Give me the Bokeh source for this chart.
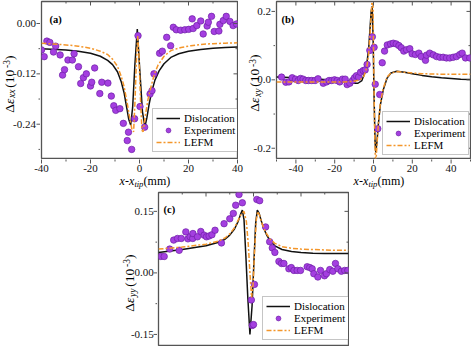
import math
from bokeh.plotting import figure
from bokeh.models import Label, Legend, LegendItem, Range1d, Spacer
from bokeh.core.properties import value
from bokeh.layouts import column, row
from bokeh.embed import file_html
from bokeh.resources import INLINE

# ---------------- data ----------------
# panel (a): delta eps_xx
a_disl_x = [-40, -30, -25, -20, -16, -13, -11, -9, -7.5, -6.3, -5.3, -4.4, -3.6, -2.8, -1.9, -0.9,
            0.1, 1.2, 2.2, 3.0, 4.0, 5.0, 6.3, 8, 10, 13, 16, 20, 25, 30, 35, 40]
a_disl_y = [-0.060, -0.063, -0.066, -0.071, -0.078, -0.088, -0.098, -0.115, -0.138, -0.165, -0.198,
            -0.228, -0.242, -0.200, -0.100, -0.013, -0.110, -0.210, -0.246, -0.225, -0.190, -0.162,
            -0.135, -0.113, -0.096, -0.080, -0.072, -0.066, -0.062, -0.059, -0.057, -0.056]
a_lefm_x = [-40, -30, -25, -20, -16, -13, -11, -9, -7.5, -6.3, -5, -4, -3, -2.4, -1.8, -1.2, -0.7,
            -0.2, 0.4, 1.0, 1.5, 2.5, 3.5, 4.5, 6, 7.5, 10, 13, 17, 21, 25, 30, 35, 40]
a_lefm_y = [-0.047, -0.051, -0.054, -0.059, -0.066, -0.074, -0.085, -0.102, -0.125, -0.150, -0.190,
            -0.225, -0.255, -0.258, -0.180, -0.080, -0.030, -0.080, -0.180, -0.255, -0.258, -0.215,
            -0.180, -0.155, -0.122, -0.100, -0.078, -0.064, -0.057, -0.053, -0.050, -0.048, -0.047, -0.046]
a_exp_x = [-40.0, -38.9, -37.8, -36.6, -35.1, -34.2, -32.4, -31.4, -30.6, -29.2, -27.4, -26.7, -24.9,
           -24.0, -22.9, -21.7, -20.0, -19.5, -18.3, -16.2, -15.4, -12.9, -11.5, -10.5, -9.7, -8.0,
           -6.6, -5.0, -4.5, -3.2, -2.0, -0.6, 0.2, 2.1, 4.3, 5.1, 5.9, 8.2, 9.3, 11.1, 12.7, 13.8,
           15.0, 16.8, 18.5, 20.1, 21.5, 21.9, 23.4, 25.0, 26.0, 27.6, 28.1, 29.4, 30.5, 32.4, 32.8,
           34.2, 35.4, 36.9, 38.2, 39.6]
a_exp_y = [-0.063, -0.079, -0.042, -0.045, -0.068, -0.054, -0.075, -0.123, -0.110, -0.087, -0.087,
           -0.072, -0.103, -0.143, -0.129, -0.120, -0.149, -0.140, -0.106, -0.167, -0.140, -0.142,
           -0.173, -0.196, -0.207, -0.203, -0.238, -0.279, -0.259, -0.300, -0.227, -0.029, -0.198,
           -0.247, -0.168, -0.160, -0.120, -0.071, -0.066, -0.033, -0.053, -0.009, -0.015, -0.016,
           -0.015, -0.014, 0.011, -0.012, -0.005, 0.006, -0.025, -0.006, 0.003, 0.017, -0.019,
           -0.018, -0.002, 0.007, 0.017, 0.005, -0.005, -0.001]
a_xticks = [-40, -20, 0, 20, 40]
a_xtick_labels = ["-40", "-20", "0", "20", "40"]
a_xminor = [-30, -10, 10, 30]
a_yticks = [-0.24, -0.12, 0.0]
a_ytick_labels = ["-0.24", "-0.12", "0.00"]
a_yminor = [-0.30, -0.18, -0.06]

# panel (b): delta eps_xy
b_disl_x = [-50, -40, -30, -20, -15, -11, -8, -6, -4.5, -3.5, -2.5, -1.8, -1.2, -0.7, -0.2, 0.3, 0.8,
            1.2, 1.8, 2.5, 3.5, 5, 7, 9, 12, 16, 20, 25, 30, 35, 40, 45, 50]
b_disl_y = [0.008, 0.006, 0.003, -0.002, -0.006, -0.010, -0.010, -0.002, 0.020, 0.045, 0.090, 0.150,
            0.200, 0.215, 0.120, -0.050, -0.180, -0.212, -0.180, -0.130, -0.075, -0.030, 0.005,
            0.020, 0.025, 0.022, 0.018, 0.013, 0.009, 0.006, 0.004, 0.002, 0.001]
b_lefm_x = [-50, -40, -30, -20, -15, -10, -7, -5, -3.5, -2.5, -1.8, -1.2, -0.7, -0.3, 0.1, 0.5, 0.9,
            1.3, 1.8, 2.5, 3.5, 5, 7, 9, 12, 16, 20, 25, 30, 40, 50]
b_lefm_y = [-0.006, -0.006, -0.006, -0.006, -0.006, -0.004, 0.000, 0.010, 0.035, 0.075, 0.130, 0.190,
            0.240, 0.260, 0.050, -0.120, -0.225, -0.235, -0.190, -0.130, -0.070, -0.025, 0.008,
            0.020, 0.024, 0.022, 0.020, 0.018, 0.017, 0.016, 0.016]
b_exp_x = [-47.4, -45.2, -43.6, -41.9, -40.2, -38.8, -37.6, -36.3, -34.9, -33.5, -31.8, -30.1, -28.6,
           -25.9, -24.2, -22.9, -21.5, -20.1, -18.7, -17.4, -16.0, -14.6, -13.6, -12.2, -10.8, -9.8,
           -8.8, -7.7, -6.7, -5.3, -4.3, -3.3, -1.9, -0.6, 0.3, 0.9, 2.2, 3.2, 4.5, 5.7, 7.1, 8.8,
           10.2, 11.7, 13.1, 14.3, 15.6, 17.0, 18.7, 19.9, 21.6, 23.4, 24.6, 26.8, 27.3, 29.0, 30.8,
           32.5, 34.2, 35.9, 37.6, 39.3, 41.1, 42.8, 44.5, 45.7, 47.4, 49.6]
b_exp_y = [0.008, -0.007, -0.006, 0.006, 0.002, -0.002, 0.004, 0.002, -0.002, -0.002, -0.002, -0.002,
           0.003, -0.010, -0.006, -0.002, -0.002, 0.000, -0.002, -0.006, 0.002, 0.002, -0.014,
           -0.010, -0.002, 0.006, 0.012, 0.008, 0.022, 0.027, 0.029, 0.045, 0.086, 0.126, 0.095,
           -0.013, -0.143, -0.043, 0.050, 0.084, 0.102, 0.105, 0.107, 0.105, 0.100, 0.094, 0.084,
           0.088, 0.091, 0.076, 0.074, 0.078, 0.068, 0.057, 0.072, 0.078, 0.073, 0.068, 0.066,
           0.066, 0.064, 0.064, 0.066, 0.068, 0.074, 0.078, 0.064, 0.064]
b_xticks = [-40, -20, 0, 20, 40]
b_xtick_labels = ["-40", "-20", "0", "20", "40"]
b_xminor = [-50, -30, -10, 10, 30, 50]
b_yticks = [-0.2, 0.0, 0.2]
b_ytick_labels = ["-0.2", "0.0", "0.2"]
b_yminor = [-0.1, 0.1]

# panel (c): delta eps_yy
c_disl_x = [-40, -30, -20, -15, -12, -10, -8, -6.5, -5.5, -4.7, -4.0, -3.2, -2.4, -1.5, -0.6, 0.2,
            0.9, 1.6, 2.4, 3.2, 4.2, 5.5, 7, 9, 12, 16, 20, 25, 30, 35, 40]
c_disl_y = [0.050, 0.057, 0.066, 0.074, 0.082, 0.092, 0.107, 0.125, 0.142, 0.153, 0.130, 0.040,
            -0.060, -0.150, -0.080, 0.030, 0.120, 0.153, 0.145, 0.128, 0.110, 0.093, 0.078, 0.066,
            0.057, 0.052, 0.050, 0.048, 0.047, 0.047, 0.047]
c_lefm_x = [-40, -30, -20, -15, -12, -10, -8, -6.5, -5, -4, -3, -2.2, -1.5, -0.8, -0.2, 0.5, 1.2,
            1.8, 2.6, 3.5, 5, 7, 9, 12, 16, 20, 25, 30, 35, 40]
c_lefm_y = [0.058, 0.063, 0.070, 0.077, 0.085, 0.095, 0.110, 0.128, 0.145, 0.150, 0.125, 0.070,
            0.000, -0.060, -0.030, 0.060, 0.130, 0.150, 0.140, 0.122, 0.100, 0.082, 0.072, 0.064,
            0.060, 0.058, 0.057, 0.056, 0.055, 0.055]
c_exp_x = [-39.0, -37.6, -35.3, -33.6, -32.0, -31.3, -30.4, -28.5, -27.6, -26.7, -25.6, -25.5, -23.6,
           -22.2, -20.8, -19.8, -18.7, -17.5, -16.2, -13.5, -12.4, -10.0, -8.5, -7.5, -6.1, -4.7,
           -0.9, -0.5, 0.0, 0.4, 1.4, 2.6, 5.1, 6.8, 7.9, 9.0, 10.7, 11.8, 12.8, 14.9, 15.9, 17.0,
           18.4, 19.8, 22.6, 23.7, 24.7, 25.4, 27.1, 28.2, 29.9, 30.7, 32.1, 33.4, 34.5, 35.5, 37.0,
           38.4, 39.7]
c_exp_y = [0.040, 0.040, 0.058, 0.080, 0.084, 0.055, 0.084, 0.100, 0.083, 0.088, 0.084, 0.096,
           0.088, 0.101, 0.092, 0.088, 0.090, 0.093, 0.104, 0.073, 0.120, 0.132, 0.145, 0.165,
           0.191, 0.171, -0.066, -0.128, -0.126, -0.028, 0.179, 0.176, 0.112, 0.076, 0.061, 0.050,
           0.028, 0.023, 0.023, 0.010, 0.013, 0.006, 0.006, 0.006, 0.015, 0.013, 0.010, -0.002,
           -0.010, 0.006, -0.007, -0.002, 0.008, 0.004, 0.023, 0.010, 0.004, 0.006, 0.006]
c_xticks = [-40, -20, 0, 20, 40]
c_xminor = [-30, -10, 10, 30]
c_yticks = [-0.15, 0.0, 0.15]
c_ytick_labels = ["-0.15", "0.00", "0.15"]
c_yminor = [-0.075, 0.075]

series_names = ["Dislocation", "Experiment", "LEFM"]

# ---------------- styling ----------------
FONT = "Liberation Serif"
FRAME = "#555555"
BLACK = "#111111"
ORANGE = "#f4962a"
PURPLE = "#a43fe0"
PURPLE_EDGE = "#6f1fa6"
TICK_FS = "11px"


def base_fig(w, h, xr, yr, l, r, t, b, outline=True, **kw):
    p = figure(width=w, height=h, x_range=xr, y_range=yr,
               x_axis_location=None, y_axis_location=None,
               min_border_left=l, min_border_right=r, min_border_top=t, min_border_bottom=b,
               output_backend="svg", toolbar_location=None, **kw)
    p.grid.visible = False
    p.background_fill_color = "white"
    p.border_fill_color = "white"
    if outline:
        p.outline_line_color = FRAME
        p.outline_line_width = 1.3
    else:
        p.outline_line_color = None
    return p


def mirror_ticks(p, xt, xmin, yt, ymin):
    """inward ticks on the top and right edges of a panel"""
    x1 = p.x_range.end
    y1 = p.y_range.end
    for xs, size in ((xt, 8), (xmin, 4)):
        p.scatter(xs, [y1] * len(xs), marker="dash", angle=math.pi / 2, size=size,
                  line_color=FRAME, line_width=1)
    for ys, size in ((yt, 8), (ymin, 4)):
        p.scatter([x1] * len(ys), ys, marker="dash", angle=0, size=size,
                  line_color=FRAME, line_width=1)


def out_yticks(f, yt, ymin):
    """outward ticks on the left edge, drawn at the right edge of the label strip"""
    xe = f.x_range.end
    for ys, size in ((yt, 8), (ymin, 4)):
        f.scatter([xe] * len(ys), ys, marker="dash", angle=0, size=size,
                  line_color=FRAME, line_width=1)


def out_xticks(f, xt, xmin, range_name="default"):
    ye = f.y_range.end
    for xs, size in ((xt, 8), (xmin, 4)):
        f.scatter(xs, [ye] * len(xs), marker="dash", angle=math.pi / 2, size=size,
                  line_color=FRAME, line_width=1, x_range_name=range_name)


def add_series(p, dx, dy, ex, ey, lx, ly, legend_loc):
    r1 = p.line(dx, dy, line_color=BLACK, line_width=1.5)
    r2 = p.scatter(ex, ey, size=6.5, fill_color=PURPLE, line_color=PURPLE_EDGE, line_width=0.7)
    r3 = p.line(lx, ly, line_color=ORANGE, line_width=1.5, line_dash="5 2 2 2")
    leg = Legend(items=[LegendItem(label=n, renderers=[r]) for n, r in zip(series_names, [r1, r2, r3])],
                 location=legend_loc, orientation="vertical",
                 label_text_font=FONT, label_text_font_size="11px", label_text_color="black",
                 glyph_width=24, glyph_height=12, label_height=12,
                 label_standoff=4, spacing=0, padding=3, margin=0,
                 border_line_color="#8c8c8c", border_line_width=1,
                 background_fill_color="white", background_fill_alpha=1.0)
    p.add_layout(leg)


def panel_tag(p, text, x, y):
    p.add_layout(Label(x=x, y=y, x_units="screen", y_units="screen", text=text,
                       text_font=FONT, text_font_size="10.5px", text_font_style="bold",
                       text_baseline="alphabetic", text_color="black"))


def xlabel(p, pieces, x0, y0):
    """horizontal rich text: (text, px size, italic, baseline drop, advance)"""
    pos = 0.0
    for text, size, italic, drop, adv in pieces:
        p.add_layout(Label(x=x0 + pos, y=y0 - drop, x_units="screen", y_units="screen",
                           text=text, text_font=FONT, text_font_size=f"{size}px",
                           text_font_style="italic" if italic else "normal",
                           text_align="left", text_baseline="alphabetic", text_color="black"))
        pos += adv


def ylabel(p, pieces, base_x, y0):
    """vertical rich text reading upwards; every piece is centred on its own box, so the
    rotation pivot is the piece centre. (text, px size, italic, centre offset, advance)"""
    pos = 0.0
    for text, size, italic, off, adv in pieces:
        p.add_layout(Label(x=base_x + off, y=y0 + pos + adv / 2, x_units="screen", y_units="screen",
                           text=text, angle=math.pi / 2, text_font=FONT,
                           text_font_size=f"{size}px",
                           text_font_style="italic" if italic else "normal",
                           text_align="center", text_baseline="middle", text_color="black"))
        pos += adv


def ylabel_pieces(sub):
    return [("\u0394", 13.5, False, -4.2, 8.2), ("\u03b5", 13.5, True, -4.2, 6.0),
            (sub, 9.5, True, -1.0, 8.9), ("(10", 13.5, False, -4.2, 21.4),
            ("-3", 9.5, False, -7.0, 8.0), (")", 13.5, False, -4.2, 4.5)]


XLABEL = [("x", 12, True, 0, 5.4), ("-", 12, False, 0, 4.1), ("x", 12, True, 0, 5.4),
          ("tip", 8.5, True, 3, 9.2), ("(mm)", 12, False, 0, 26.7)]


def ytick_text(f, xpos, ticks, labels):
    f.text([xpos] * len(ticks), ticks, text=labels, text_align="right", text_baseline="middle",
           text_font=value(FONT), text_font_size=value(TICK_FS), text_color="#111111")


# ---------------- top row: panels (a) and (b) ----------------
ya = Range1d(-0.3217, 0.0524)
pa = base_fig(198, 159, Range1d(-40, 40), ya, 1, 1, 1, 1)
add_series(pa, a_disl_x, a_disl_y, a_exp_x, a_exp_y, a_lefm_x, a_lefm_y, (111, 6))
mirror_ticks(pa, a_xticks, a_xminor, a_yticks, a_yminor)
panel_tag(pa, "(a)", 8, 139)

la = base_fig(40, 159, Range1d(0, 40), ya, 0, 0, 1, 1, outline=False)
ytick_text(la, 35.5, a_yticks, a_ytick_labels)
out_yticks(la, a_yticks, a_yminor)
ylabel(la, ylabel_pieces("xx"), 12.7, 46)

yb = Range1d(-0.230, 0.229)
pb = base_fig(196, 159, Range1d(-50, 50), yb, 1, 1, 1, 1)
add_series(pb, b_disl_x, b_disl_y, b_exp_x, b_exp_y, b_lefm_x, b_lefm_y, (106, 3))
mirror_ticks(pb, b_xticks, b_xminor, b_yticks, b_yminor)
panel_tag(pb, "(b)", 5, 139)

lb = base_fig(37, 159, Range1d(0, 37), yb, 0, 0, 1, 1, outline=False)
ytick_text(lb, 32.5, b_yticks, b_ytick_labels)
out_yticks(lb, b_yticks, b_yminor)
ylabel(lb, ylabel_pieces("xy"), 20.5, 47)

# ---------------- band under (a) and (b): x ticks, tick labels and x titles ----------------
BAND_W, BAND_H = 474, 32
A_L, A_R = 41, 237      # frame pixel edges of (a) inside the page
B_L, B_R = 276, 470     # frame pixel edges of (b) inside the page
ka = (A_R - A_L) / (pa.x_range.end - pa.x_range.start)
kb = (B_R - B_L) / (pb.x_range.end - pb.x_range.start)
xa_range = Range1d(pa.x_range.start - A_L / ka, pa.x_range.start + (BAND_W - A_L) / ka)
xb_range = Range1d(pb.x_range.start - B_L / kb, pb.x_range.start + (BAND_W - B_L) / kb)
band = base_fig(BAND_W, BAND_H, Range1d(0, BAND_W), Range1d(0, BAND_H), 0, 0, 0, 0, outline=False,
                extra_x_ranges={"a": xa_range, "b": xb_range})
for rn, ticks, minor, labels in (("a", a_xticks, a_xminor, a_xtick_labels),
                                 ("b", b_xticks, b_xminor, b_xtick_labels)):
    band.text(ticks, [23.5] * len(ticks), text=labels, x_range_name=rn,
              text_align="center", text_baseline="middle", text_font=value(FONT),
              text_font_size=value(TICK_FS), text_color="#111111")
    out_xticks(band, ticks, minor, rn)
xlabel(band, XLABEL, 119, 11)
xlabel(band, XLABEL, 353, 11)

# ---------------- bottom row: panel (c) ----------------
yc = Range1d(-0.177, 0.196)
xc = Range1d(-40, 40)
pc = base_fig(192, 155, xc, yc, 1, 1, 1, 1)
add_series(pc, c_disl_x, c_disl_y, c_exp_x, c_exp_y, c_lefm_x, c_lefm_y, (104, 5))
mirror_ticks(pc, c_xticks, c_xminor, c_yticks, c_yminor)
panel_tag(pc, "(c)", 5, 136)

bc = base_fig(192, 3, xc, Range1d(0, 3), 1, 1, 0, 0, outline=False)
out_xticks(bc, c_xticks, c_xminor)

lc = base_fig(157, 158, Range1d(0, 157), yc, 0, 0, 1, 4, outline=False)
ytick_text(lc, 153.3, c_yticks, c_ytick_labels)
out_yticks(lc, c_yticks, c_yminor)
ylabel(lc, ylabel_pieces("yy"), 133, 34)

layout = column(
    row(la, pa, lb, pb, Spacer(width=3, height=159)),
    band,
    row(lc, column(pc, bc), Spacer(width=125, height=158)),
)
open("out.html", "w").write(file_html(layout, INLINE))
